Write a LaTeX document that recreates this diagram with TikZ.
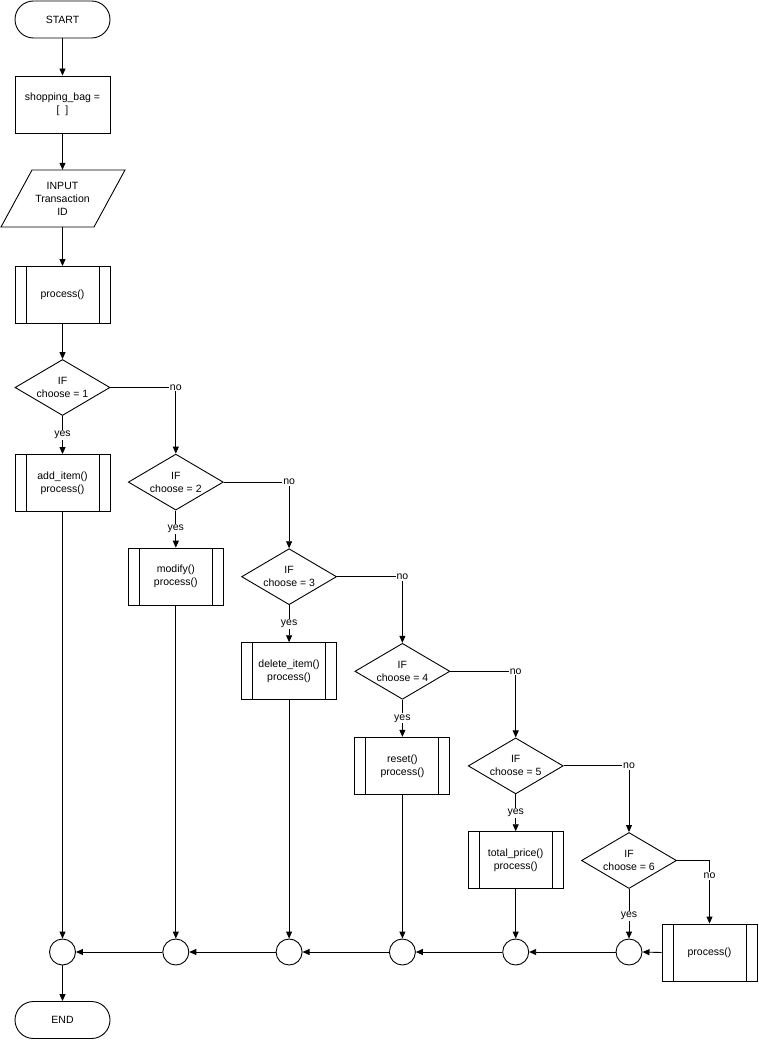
\documentclass[tikz,border=0pt]{standalone}
\usepackage{fontspec}
\setmainfont{Liberation Sans}
\usetikzlibrary{shapes.geometric,arrows.meta}
\begin{document}
\begin{tikzpicture}[x=1pt,y=-1pt,
  every node/.style={font=\fontsize{10.5}{13}\selectfont},
  base/.style={draw, line width=0.9pt, inner sep=0pt, align=center},
  term/.style={base, rectangle, rounded corners=18.5pt, minimum width=95pt, minimum height=37pt},
  procbox/.style={base, rectangle, minimum width=95pt, minimum height=57pt},
  subproc/.style={procbox, path picture={
     \draw[line width=0.9pt] ([xshift=11pt]path picture bounding box.north west) -- ([xshift=11pt]path picture bounding box.south west);
     \draw[line width=0.9pt] ([xshift=-11pt]path picture bounding box.north east) -- ([xshift=-11pt]path picture bounding box.south east);}},
  dia/.style={base, diamond, minimum width=95pt, minimum height=56pt},
  junc/.style={base, circle, minimum size=26pt},
  lbl/.style={fill=white, inner sep=1pt},
  arr/.style={line width=0.9pt, -{Triangle[length=7pt,width=6pt]}},
  ln/.style={line width=0.9pt}]
\useasboundingbox (0,0) rectangle (758,1040);

% top column
\node[term] (start) at (62.5,19.5) {START};
\node[procbox] (sb) at (62.5,104.5) {shopping\_bag =\\{[\ \ ]}};
\node[inner sep=0pt, minimum width=60pt, minimum height=57pt, align=center] (inp) at (62.5,198.5) {INPUT\\Transaction\\ID};
\draw[ln] (32,170) -- (125,170) -- (94,227) -- (1,227) -- cycle;
\node[subproc] (proc) at (62.5,295) {process()};

% decisions
\node[dia] (d1) at (62.5,387.5) {};
\node (t1) at (d1) [align=center] {IF\\choose = 1};
\node[dia] (d2) at (175.8,482.1) {};
\node (t2) at (d2) [align=center] {IF\\choose = 2};
\node[dia] (d3) at (289.1,576.7) {};
\node (t3) at (d3) [align=center] {IF\\choose = 3};
\node[dia] (d4) at (402.4,671.3) {};
\node (t4) at (d4) [align=center] {IF\\choose = 4};
\node[dia] (d5) at (515.7,765.9) {};
\node (t5) at (d5) [align=center] {IF\\choose = 5};
\node[dia] (d6) at (629,860.5) {};
\node (t6) at (d6) [align=center] {IF\\choose = 6};

% actions
\node[subproc] (b1) at (62.5,483) {add\_item()\\process()};
\node[subproc] (b2) at (175.8,576.6) {modify()\\process()};
\node[subproc] (b3) at (289.1,671.2) {delete\_item()\\process()};
\node[subproc] (b4) at (402.4,765.8) {reset()\\process()};
\node[subproc] (b5) at (515.7,860.2) {total\_price()\\process()};
\node[subproc] (b6) at (709.5,952.5) {process()};

% junctions
\node[junc] (c1) at (62.5,952) {};
\node[junc] (c2) at (175.8,952) {};
\node[junc] (c3) at (289.1,952) {};
\node[junc] (c4) at (402.4,952) {};
\node[junc] (c5) at (515.7,952) {};
\node[junc] (c6) at (629,952) {};

\node[term] (end) at (62.5,1020) {END};

% connectors
\draw[arr] (start) -- (sb);
\draw[arr] (sb) -- (inp.north);
\draw[arr] (inp.south) -- (proc);
\draw[arr] (proc) -- (d1);

\draw[arr] (d1.south) -- node[lbl] (y1) {yes} (b1.north);
\draw[arr] (d2.south) -- node[lbl] (y2) {yes} (b2.north);
\draw[arr] (d3.south) -- node[lbl] (y3) {yes} (b3.north);
\draw[arr] (d4.south) -- node[lbl] (y4) {yes} (b4.north);
\draw[arr] (d5.south) -- node[lbl] (y5) {yes} (b5.north);
\draw[arr] (d6.south) -- node[lbl,pos=0.55] (y6) {yes} (c6.north);

\draw[arr] (d1.east) -| node[lbl] (n1) {no} (d2.north);
\draw[arr] (d2.east) -| node[lbl] (n2) {no} (d3.north);
\draw[arr] (d3.east) -| node[lbl] (n3) {no} (d4.north);
\draw[arr] (d4.east) -| node[lbl] (n4) {no} (d5.north);
\draw[arr] (d5.east) -| node[lbl] (n5) {no} (d6.north);
\draw[arr] (d6.east) -| node[lbl,pos=0.62] (n6) {no} (b6.north);

\draw[arr] (b1.south) -- (c1.north);
\draw[arr] (b2.south) -- (c2.north);
\draw[arr] (b3.south) -- (c3.north);
\draw[arr] (b4.south) -- (c4.north);
\draw[arr] (b5.south) -- (c5.north);

\draw[arr] (b6.west) -- (c6.east);
\draw[arr] (c6.west) -- (c5.east);
\draw[arr] (c5.west) -- (c4.east);
\draw[arr] (c4.west) -- (c3.east);
\draw[arr] (c3.west) -- (c2.east);
\draw[arr] (c2.west) -- (c1.east);
\draw[arr] (c1.south) -- (end.north);
\end{tikzpicture}
\end{document}
